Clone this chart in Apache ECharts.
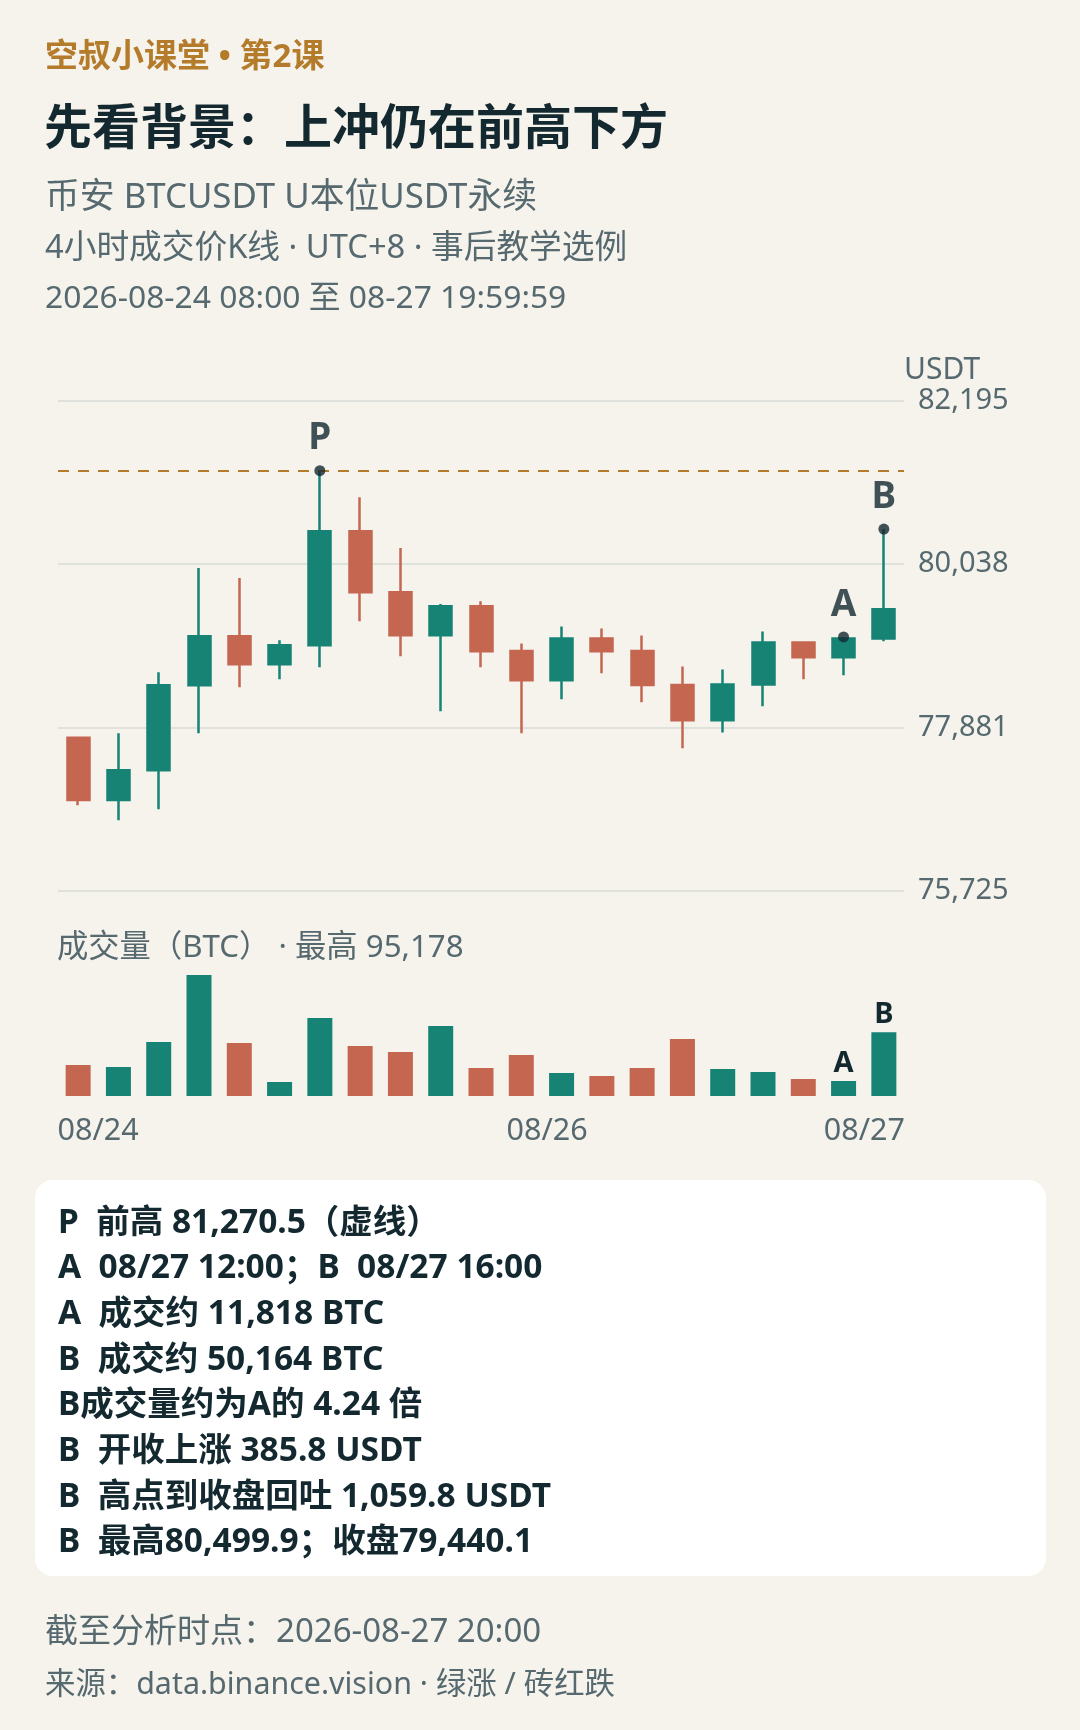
<!DOCTYPE html>
<html>
<head>
<meta charset="utf-8">
<title>先看背景：上冲仍在前高下方</title>
<script src="https://cdn.jsdelivr.net/npm/echarts@6/dist/echarts.min.js"></script>
<style>
html, body { margin: 0; padding: 0; background: #f6f3ed; }
#main { width: 1080px; height: 1730px; }
</style>
</head>
<body>
<div id="main"></div>
<script>
// 币安 BTCUSDT 4小时K线 (UTC+8)
var times = ['08/24 08:00', '08/24 12:00', '08/24 16:00', '08/24 20:00',
             '08/25 00:00', '08/25 04:00', '08/25 08:00', '08/25 12:00', '08/25 16:00', '08/25 20:00',
             '08/26 00:00', '08/26 04:00', '08/26 08:00', '08/26 12:00', '08/26 16:00', '08/26 20:00',
             '08/27 00:00', '08/27 04:00', '08/27 08:00', '08/27 12:00', '08/27 16:00'];
var opens  = [77743, 76923, 77315, 78438, 79085, 78716, 78966, 80472, 79665, 79099, 79481,
              78890, 78503, 79054, 78890, 78440, 77974, 78446, 79001, 78807, 79054.3];
var closes = [76923, 77315, 78438, 79085, 78716, 78966, 80472, 79665, 79099, 79481, 78887,
              78503, 79054, 78887, 78440, 77974, 78446, 79001, 78807, 79054.3, 79440.1];
var highs  = [77750, 77805, 78608, 79986, 79854, 79032, 81270.5, 80920, 80250, 79509, 79547,
              78990, 79213, 79187, 79094, 78684, 78644, 79147, 79015, 79075, 80499.9];
var lows   = [76852, 76654, 76800, 77805, 78410, 78518, 78674, 79283, 78820, 78093, 78675,
              77803, 78252, 78596, 78212, 77607, 77815, 78159, 78516, 78569, 79019];
var volumes = [24380, 22810, 42480, 95178, 41690, 11010, 61360, 39330, 34610, 55060, 22030,
               32250, 18090, 15730, 22020, 44840, 21240, 18880, 13370, 11818, 50164];

// 标注点：P 前高，A / B
var markIdx = [6, 19, 20];
var markNames = ['P', 'A', 'B'];

// x轴刻度文字（成交量图下方）
var xLabels = ['08/24', '', '', '', '', '', '', '', '', '', '',
               '', '08/26', '', '', '', '', '', '', '', '08/27'];

// 价格轴范围与刻度
var yMin = 75724.6;
var yMax = 82194.7;
var yStep = 2156.7;

var GREEN = '#168374', RED = '#c46650', INK = '#13282f', MUTED = '#55696f',
    GOLD = '#b47b2a', GRIDC = '#dfe1dc', BG = '#f6f3ed';
var FONT = '"Noto Sans", "Noto Sans CJK SC", sans-serif';

function fmt(v, d) {
  return v.toLocaleString('en-US', { minimumFractionDigits: d || 0, maximumFractionDigits: d || 0 });
}

var prevHigh = highs[markIdx[0]];
var iA = markIdx[1], iB = markIdx[2];
var volMax = Math.max.apply(null, volumes);

var kData = [];
for (var i = 0; i < times.length; i++) {
  kData.push([opens[i], closes[i], lows[i], highs[i]]);
}

var volData = volumes.map(function (v, i) {
  return { value: v, itemStyle: { color: closes[i] >= opens[i] ? GREEN : RED } };
});

// x标签位置微调（只是样式）
var labelPad = { 0: [0, 0, 0, 40], 12: [0, 29, 0, 0], 20: [0, 39, 0, 0] };
var xCat = times.map(function (t, i) {
  if (labelPad[i]) return { value: t, textStyle: { align: 'center', padding: labelPad[i] } };
  return t;
});

var infoLines = [
  'P  前高 ' + fmt(prevHigh, 1) + '（虚线）',
  'A  ' + times[iA] + '；B  ' + times[iB],
  'A  成交约 ' + fmt(volumes[iA]) + ' BTC',
  'B  成交约 ' + fmt(volumes[iB]) + ' BTC',
  'B成交量约为A的 ' + (volumes[iB] / volumes[iA]).toFixed(2) + ' 倍',
  'B  开收上涨 ' + fmt(closes[iB] - opens[iB], 1) + ' USDT',
  'B  高点到收盘回吐 ' + fmt(highs[iB] - closes[iB], 1) + ' USDT',
  'B  最高' + fmt(highs[iB], 1) + '；收盘' + fmt(closes[iB], 1)
];

var infoGraphics = [{
  type: 'rect',
  shape: { x: 35, y: 1180, width: 1011, height: 396, r: 18 },
  style: { fill: '#ffffff' }
}];
infoLines.forEach(function (s, k) {
  infoGraphics.push({
    type: 'text',
    x: 58, y: 1223 + 45.7 * k,
    style: { text: s, fontSize: 33.5, fontWeight: 'bold', fontFamily: FONT,
             fill: INK, verticalAlign: 'middle' }
  });
});

function t(text, left, top, size, color, weight) {
  return { text: text, left: left, top: top, padding: 0,
           textStyle: { fontSize: size, color: color, fontWeight: weight || 'normal', fontFamily: FONT } };
}

var myChart = echarts.init(document.getElementById('main'));
var option = {
  backgroundColor: BG,
  animation: false,
  textStyle: { fontFamily: FONT },
  title: [
    t('空叔小课堂 • 第2课', 45, 41, 33, GOLD, 'bold'),
    t('先看背景：上冲仍在前高下方', 44, 106, 48, INK, 'bold'),
    t('币安 BTCUSDT U本位USDT永续', 45, 181, 34.8, MUTED),
    t('4小时成交价K线 · UTC+8 · 事后教学选例', 45, 232, 32.7, MUTED),
    t('2026-08-24 08:00 至 08-27 19:59:59', 45, 283, 31.8, MUTED),
    t('成交量（BTC） · 最高 ' + fmt(volMax), 57, 932, 31.3, MUTED),
    t('截至分析时点：2026-08-27 20:00', 45, 1616, 33, MUTED),
    t('来源：data.binance.vision · 绿涨 / 砖红跌', 45, 1670, 30.4, MUTED)
  ],
  grid: [
    { left: 58, right: 176, top: 400.7, height: 490 },
    { left: 58, right: 176, top: 975, height: 121 }
  ],
  xAxis: [
    { type: 'category', gridIndex: 0, data: times, boundaryGap: true,
      axisLine: { show: false }, axisTick: { show: false },
      axisLabel: { show: false }, splitLine: { show: false } },
    { type: 'category', gridIndex: 1, data: xCat, boundaryGap: true,
      axisLine: { show: false }, axisTick: { show: false }, splitLine: { show: false },
      axisLabel: {
        interval: function (idx) { return xLabels[idx] !== ''; },
        formatter: function (v, idx) { return xLabels[idx]; },
        fontSize: 30.5, color: MUTED, margin: 20
      } }
  ],
  yAxis: [
    { type: 'value', gridIndex: 0, position: 'right', scale: true,
      min: yMin, max: yMax, interval: yStep,
      name: 'USDT', nameLocation: 'end', nameGap: 15,
      nameTextStyle: { color: MUTED, fontSize: 30, align: 'left' },
      axisLine: { show: false }, axisTick: { show: false },
      axisLabel: { color: MUTED, fontSize: 29, margin: 14, padding: [6, 0, 0, 0],
                   formatter: function (v) { return fmt(Math.round(v)); } },
      splitLine: { lineStyle: { color: GRIDC, width: 2 } } },
    { type: 'value', gridIndex: 1, min: 0, max: volMax, show: false,
      splitLine: { show: false } }
  ],
  series: [
    {
      type: 'candlestick', xAxisIndex: 0, yAxisIndex: 0,
      data: kData, barWidth: 22.5,
      itemStyle: { color: GREEN, color0: RED, borderColor: GREEN, borderColor0: RED, borderWidth: 2.5 },
      markLine: {
        silent: true, symbol: 'none', label: { show: false },
        lineStyle: { color: GOLD, width: 2, type: [11, 9] },
        data: [{ yAxis: prevHigh }]
      }
    },
    {
      type: 'scatter', xAxisIndex: 0, yAxisIndex: 0, z: 5,
      data: markIdx.map(function (i) { return [i, highs[i]]; }),
      symbolSize: 11,
      itemStyle: { color: INK },
      label: {
        show: true, position: 'top', distance: 8,
        formatter: function (p) { return markNames[p.dataIndex]; },
        fontSize: 37, fontWeight: 'bold', color: INK
      }
    },
    {
      type: 'bar', xAxisIndex: 1, yAxisIndex: 1,
      data: volData, barWidth: 25,
      label: {
        show: true, position: 'top', distance: 3,
        formatter: function (p) {
          var k = markIdx.indexOf(p.dataIndex);
          return k > 0 ? markNames[k] : '';
        },
        fontSize: 29, fontWeight: 'bold', color: INK
      }
    }
  ],
  graphic: infoGraphics
};
myChart.setOption(option);
</script>
</body>
</html>
